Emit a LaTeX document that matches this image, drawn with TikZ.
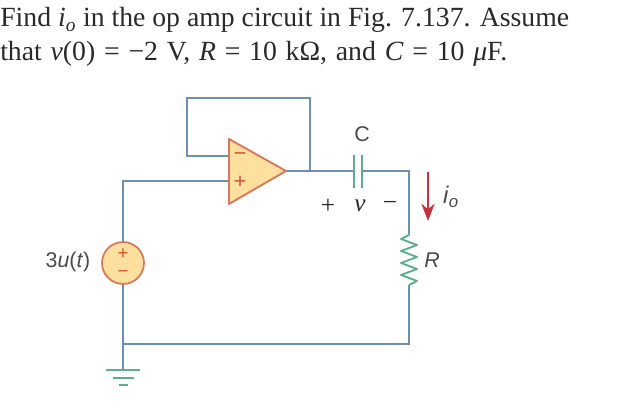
\documentclass[tikz,border=0pt]{standalone}
\usepackage{fontspec}
\setmainfont{Liberation Serif}
\setsansfont{Liberation Sans}
\usetikzlibrary{arrows.meta,decorations.pathmorphing}
\definecolor{wire}{HTML}{6F8FAF}
\definecolor{fillY}{HTML}{FDDF9E}
\definecolor{edgeR}{HTML}{D9775A}
\definecolor{signR}{HTML}{D8532F}
\definecolor{compG}{HTML}{5FAE8A}
\definecolor{labelG}{HTML}{4A4A4A}
\definecolor{arrowR}{HTML}{C8323C}
\definecolor{bodyT}{HTML}{2A2A2A}
\tikzset{
  w/.style={draw=wire,line width=1.5pt},
  comp/.style={draw=compG,line width=1.4pt},
  para/.style={anchor=base west,inner sep=0pt,font=\fontsize{20.8}{24}\selectfont,text=bodyT},
  lab/.style={inner sep=0pt,font=\sffamily\fontsize{16}{17}\selectfont,text=labelG},
  sign/.style={inner sep=0pt,text=signR,font=\sffamily\fontsize{16}{16}\selectfont},
  srcsign/.style={sign,font=\sffamily\fontsize{14}{14}\selectfont},
  pm/.style={inner sep=0pt,text=bodyT,font=\fontsize{19}{19}\selectfont}
}
\begin{document}
\begin{tikzpicture}[x=0.75pt,y=-0.75pt]
\useasboundingbox (0,0) rectangle (640,402);
\fill[white] (0,0) rectangle (640,402);
% text
\node[para] (line1) at (0,27) {Find $\mathit{i}_{\mathit{o}}$ in the op amp circuit in Fig. 7.137. Assume};
\node[para] (line2) at (0,61) {\spaceskip=6.6pt that \textit{v}(0) = −2 V, \textit{R} = 10 kΩ, and \textit{C} = 10 \textit{μ}F.};
% coordinates
\coordinate (minus) at (229,156);
\coordinate (plus) at (229,181);
\coordinate (out) at (286,171);
\coordinate (fbL) at (187,156);
\coordinate (fbTL) at (187,98);
\coordinate (fbTR) at (310,98);
\coordinate (fbB) at (310,171);
\coordinate (capL) at (354,171);
\coordinate (capR) at (362,171);
\coordinate (corner) at (409,171);
\coordinate (rTop) at (409,233);
\coordinate (rBot) at (409,285);
\coordinate (br) at (409,344);
\coordinate (gj) at (123,344);
\coordinate (gnd) at (123,370);
\coordinate (tl) at (123,181);
\node[circle,draw=edgeR,fill=fillY,line width=1.3pt,minimum size=31.5pt,inner sep=0pt] (src) at (123,263) {};
% wires
\draw[w] (minus) -- (fbL) -- (fbTL) -- (fbTR) -- (fbB);
\draw[w] (out) -- (capL);
\draw[w] (capR) -- (corner) -- (rTop);
\draw[w] (rBot) -- (br) -- (gj);
\draw[w] (plus) -- (tl) -- (src.north);
\draw[w] (src.south) -- (gnd);
% op amp
\draw[draw=edgeR,fill=fillY,line width=1.4pt,line join=round] (229,139) -- (229,204) -- (286,171) -- cycle;
\node[sign] (om) at (240,157) {−};
\node[sign] (op) at (240,182) {+};
% source signs
\node[srcsign] (sp) at (123,254) {+};
\node[srcsign] (sm) at (123,274) {−};
% capacitor
\draw[comp] (354,155) -- (354,188);
\draw[comp] (362,155) -- (362,188);
% resistor
\draw[comp,line join=round] (rTop) -- (409,235) -- (401,239) -- (417,245) -- (401,251) -- (417,257) -- (401,263) -- (417,269) -- (401,275) -- (417,281) -- (409,285) -- (rBot);
% ground
\draw[comp] (106,370) -- (140,370);
\draw[comp] (113,378) -- (134,378);
\draw[comp] (119,385) -- (128,385);
% arrow
\coordinate (aS) at (428,172);
\coordinate (aE) at (428,221);
\draw[draw=arrowR,fill=arrowR,line width=1.6pt,-{Stealth[length=13pt,width=10pt]}] (aS) -- (aE);
% labels
\node[lab] (lc) at (362,134) {C};
\node[pm] (lp) at (328,206) {+};
\node[pm] (lv) at (360,206) {\textit{v}};
\node[pm] (lm) at (390,206) {−};
\node[lab,font=\sffamily\fontsize{18}{18}\selectfont] (lio) at (451,197) {\textit{i}\textsubscript{\textit{o}}};
\node[lab] (lr) at (432,260) {\textit{R}};
\node[lab] (lu) at (68,262) {3\textit{u}(\textit{t})};
\end{tikzpicture}
\end{document}
